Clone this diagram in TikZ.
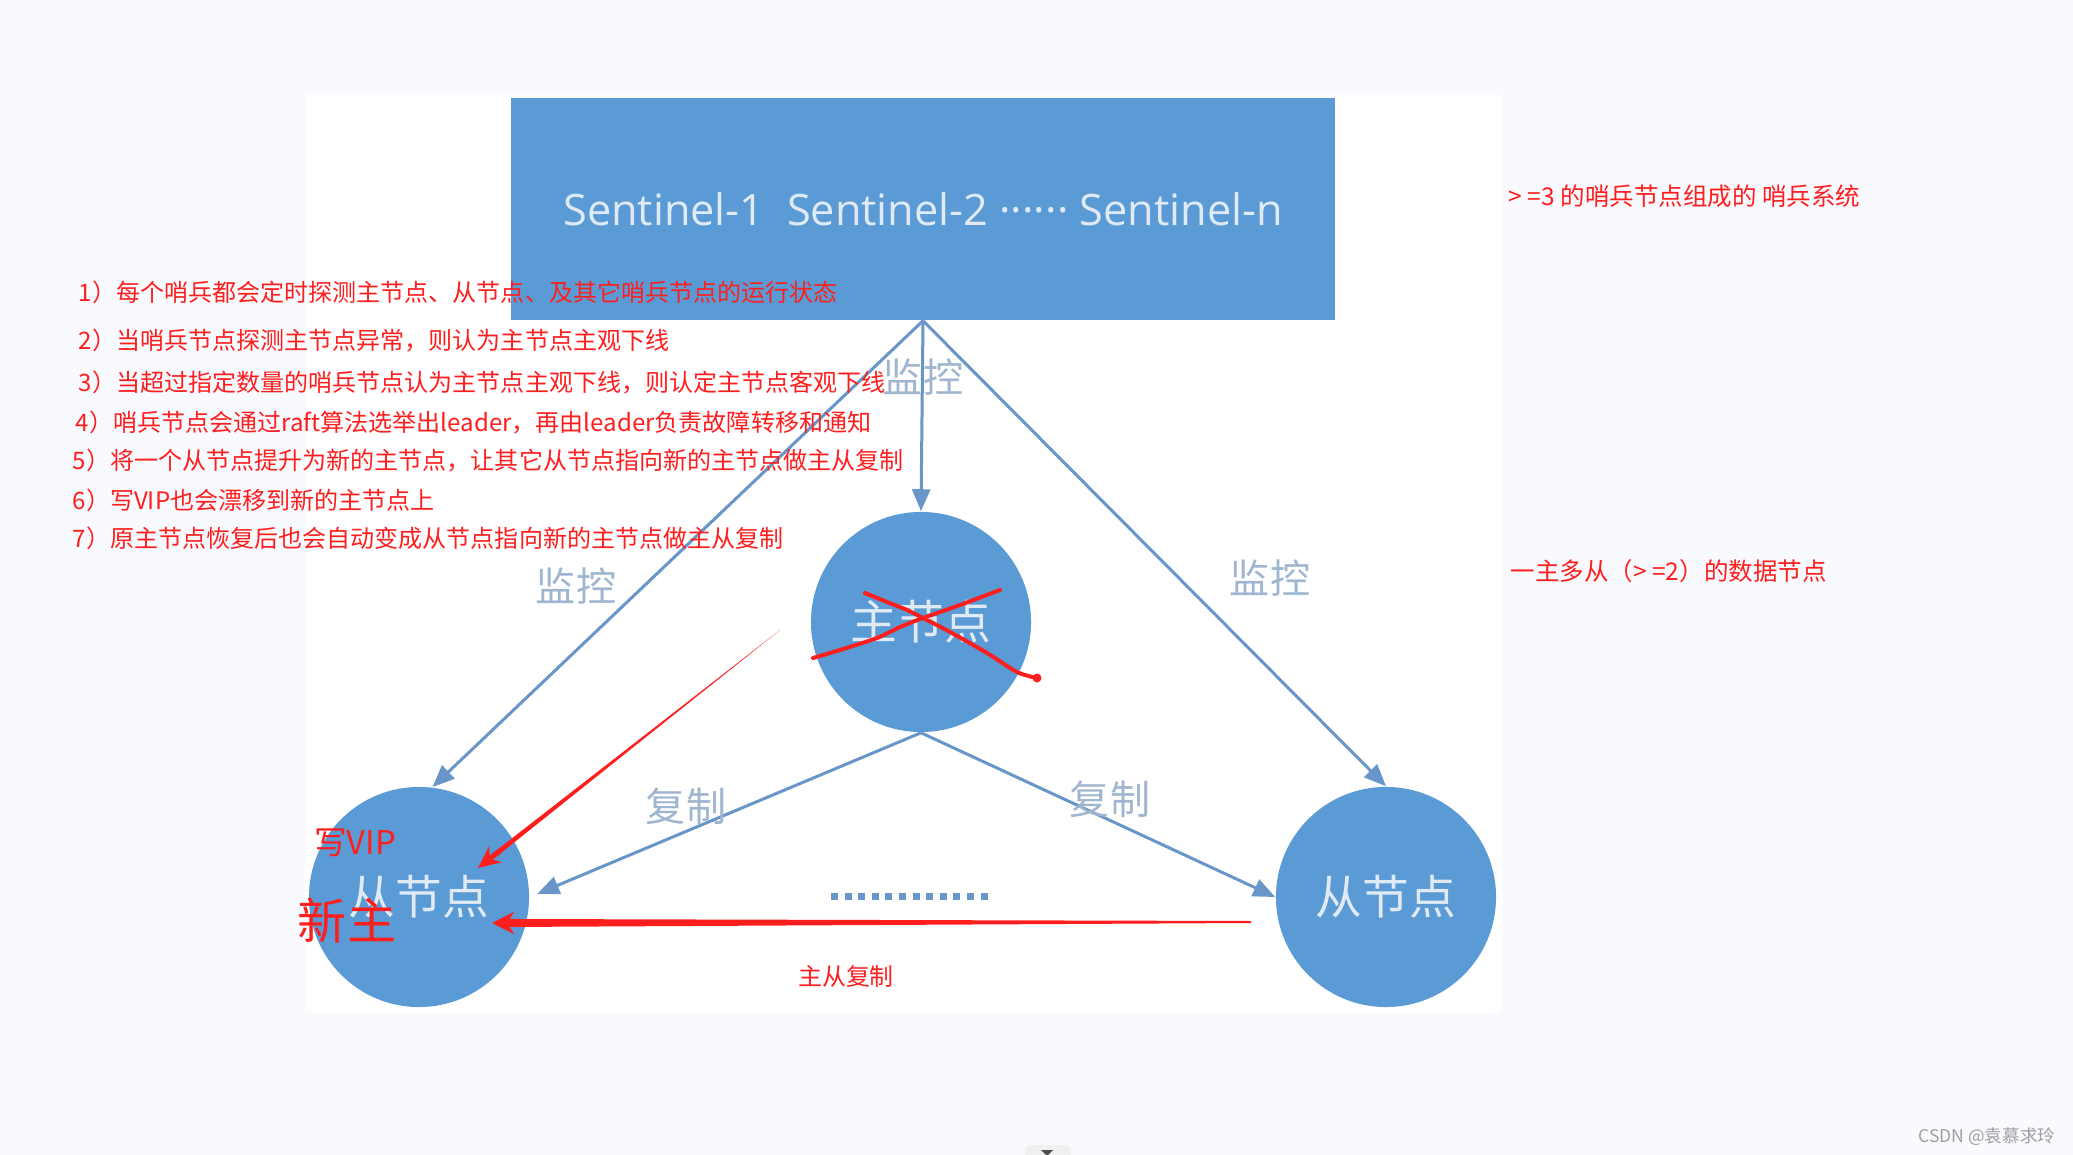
\documentclass[tikz,border=0pt]{standalone}
\usepackage{fontspec}
\setmainfont{Noto Sans CJK SC}
\newfontfamily\sentfont{Open Sans}
\usepackage{xcolor}
\definecolor{pagebg}{RGB}{249,250,254}
\definecolor{nodeblue}{RGB}{91,155,213}
\definecolor{linkblue}{RGB}{104,150,200}
\definecolor{labelgray}{RGB}{160,182,208}
\definecolor{softwhite}{RGB}{224,234,245}
\definecolor{annored}{RGB}{255,30,30}
\usetikzlibrary{arrows.meta, positioning, calc}
\tikzstyle{datanode} = [
    circle,
    fill=nodeblue,
    minimum size=2.2cm,
    inner sep=0pt,
    text=softwhite,
    font=\fontsize{13.3}{14}\selectfont
]
\tikzstyle{link} = [
    linkblue,
    line width=0.03cm,
    -{Triangle[length=0.22cm, width=0.18cm]}
]
\tikzstyle{linklabel} = [
    text=labelgray,
    font=\fontsize{11.4}{12}\selectfont
]
\tikzstyle{note} = [
    text=annored,
    anchor=west,
    inner sep=0pt,
    font=\fontsize{6.84}{8}\selectfont
]
\tikzstyle{sidenote} = [
    note,
    font=\fontsize{6.97}{8}\selectfont
]
\tikzstyle{redpen} = [
    annored,
    line width=0.04cm,
    line cap=round,
    line join=round
]

\begin{document}
\begin{tikzpicture}[x=0.01cm, y=-0.01cm]
        % Page and pasted picture
        \fill[pagebg] (0,0) rectangle (2073,1155);
        \useasboundingbox (0,0) rectangle (2073,1155);
        \fill[white] (305,95) rectangle (1502,1012);

        % Sentinel system
        \node[rectangle, fill=nodeblue, minimum width=8.24cm, minimum height=2.22cm,
              text=softwhite, font=\sentfont\fontsize{12.3}{13}\selectfont]
            (sentinel) at (923,209) {Sentinel-1\ \ Sentinel-2 ······ Sentinel-n};

        % Data nodes
        \node[datanode] (master) at (921,622) {主节点};
        \node[datanode] (lslave) at (419,897) {从节点};
        \node[datanode] (rslave) at (1386,897) {从节点};

        % Monitoring
        \draw[link] (sentinel.south) -- (master.north);
        \draw[link] (sentinel.south) -- (lslave.83);
        \draw[link] (sentinel.south) -- (rslave.north);
        \node[linklabel] (monmid) at (923,377) {监控};
        \node[linklabel] (monleft) at (576,586) {监控};
        \node[linklabel] (monright) at (1270,578) {监控};

        % Replication
        \draw[link, shorten >=0.08cm] (master.south) -- (lslave.east);
        \draw[link] (master.south) -- (rslave.west);
        \node[linklabel] (repleft) at (686,806) {复制};
        \node[linklabel] (represent) at (1110,799) {复制};
        \draw[linkblue, line width=0.07cm, dash pattern=on 0.07cm off 0.066cm] (831,896) -- (993,896);

        % Notes
        \node[note] (step1) at (78,292) {1）每个哨兵都会定时探测主节点、从节点、及其它哨兵节点的运行状态};
        \node[note] (step2) at (78,340) {2）当哨兵节点探测主节点异常，则认为主节点主观下线};
        \node[note] (step3) at (78,382) {3）当超过指定数量的哨兵节点认为主节点主观下线，则认定主节点客观下线};
        \node[note] (step4) at (75,422) {4）哨兵节点会通过raft算法选举出leader，再由leader负责故障转移和通知};
        \node[note] (step5) at (72,460) {5）将一个从节点提升为新的主节点，让其它从节点指向新的主节点做主从复制};
        \node[note] (step6) at (72,500) {6）写VIP也会漂移到新的主节点上};
        \node[note] (step7) at (72,538) {7）原主节点恢复后也会自动变成从节点指向新的主节点做主从复制};
        \node[sidenote] (sysnote) at (1508,196) {> =3 的哨兵节点组成的 哨兵系统};
        \node[sidenote] (datanote) at (1510,571) {一主多从（> =2）的数据节点};

        % Master is down
        \draw[redpen] plot[smooth] coordinates {(813,658) (840,650) (877,638) (900,627) (923,618) (960,605) (1000,590)};
        \draw[redpen] plot[smooth] coordinates {(865,593) (887,602) (907,610) (923,618) (950,632) (987,653) (1017,672) (1037,678)};
        \fill[annored] (1037,678) circle (0.045cm);

        % VIP moves to the new master
        \coordinate (vipfrom) at (780,630);
        \coordinate (viptip) at (478,868);
        \coordinate (vipneck) at ($(viptip)!0.15cm!(vipfrom)$);
        \fill[annored] (vipfrom) -- ($(vipneck)!0.025cm!90:(vipfrom)$) -- ($(vipneck)!0.025cm!-90:(vipfrom)$) -- cycle;
        \draw[annored, line width=0.05cm, -{Stealth[length=0.22cm, width=0.2cm]}] ($(viptip)!0.3cm!(vipfrom)$) -- (viptip);
        \node[text=annored, font=\fontsize{9.3}{10}\selectfont] (vip) at (355,843) {写VIP};
        \node[text=annored, font=\fontsize{14}{15}\selectfont] (newmaster) at (347,921) {新主};

        % Other slave follows the new master
        \coordinate (syncfrom) at (1251,922);
        \coordinate (synctip) at (492,923);
        \coordinate (syncneck) at ($(synctip)!0.15cm!(syncfrom)$);
        \fill[annored] ($(syncfrom)!0.01cm!90:(synctip)$) -- ($(syncfrom)!0.01cm!-90:(synctip)$)
            -- ($(syncneck)!0.04cm!90:(syncfrom)$) -- ($(syncneck)!0.04cm!-90:(syncfrom)$) -- cycle;
        \draw[annored, line width=0.06cm, -{Stealth[length=0.22cm, width=0.22cm]}] ($(synctip)!0.3cm!(syncfrom)$) -- (synctip);
        \node[text=annored, font=\fontsize{6.8}{8}\selectfont] (sync) at (846,976) {主从复制};

        % Page furniture
        \node[anchor=east, inner sep=0pt, text=gray!75, font=\fontsize{5}{6}\selectfont] (mark) at (2056,1137) {CSDN @袁慕求玲};
        \fill[gray!12, rounded corners=0.06cm] (1025,1145) rectangle (1071,1165);
        \fill[gray!60!black] (1041,1150) -- (1053,1150) -- (1047,1156) -- cycle;
    \end{tikzpicture}
\end{document}
